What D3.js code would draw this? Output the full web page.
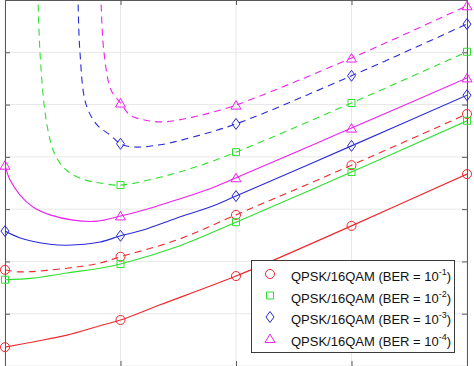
<!DOCTYPE html>
<html>
<head>
<meta charset="utf-8">
<script src="https://cdn.jsdelivr.net/npm/d3@7"></script>
<style>
  body { margin: 0; background: #fff; }
  svg { display: block; font-family: "Liberation Sans", Arial, sans-serif; }
</style>
</head>
<body>
<svg id="chart"></svg>
<script>
let width = 474;
let height = 366;

// x ticks (axis labels are cropped off in the reference)
let xTicks = [1, 2, 3, 4, 5];
let yTicks = [0, 1, 2, 3, 4, 5, 6, 7];

// series, solid and dashed for each BER target
let redSolidX = [1, 1.242, 1.537, 1.823, 2, 2.342, 3, 4, 5];
let redSolidY = [0.36, 0.46, 0.59, 0.77, 0.88, 1.17, 1.72, 2.68, 3.67];
let redDashX = [1, 1.13, 1.537, 1.823, 2, 2.489, 3, 4, 5];
let redDashY = [1.84, 1.80, 1.87, 1.97, 2.09, 2.41, 2.89, 3.84, 4.82];

let greenSolidX = [1, 1.242, 1.537, 1.823, 2, 2.489, 3, 4, 5];
let greenSolidY = [1.65, 1.68, 1.78, 1.87, 1.95, 2.28, 2.75, 3.71, 4.69];
let greenDashX = [1.28, 1.286, 1.303, 1.338, 1.372, 1.416, 1.476, 1.563, 1.693, 1.823, 2, 2.342, 2.628, 3, 4, 5];
let greenDashY = [7.6, 7.0, 6.0, 5.01, 4.51, 4.13, 3.88, 3.69, 3.56, 3.5, 3.46, 3.61, 3.79, 4.09, 5.03, 6.01];

let blueSolidX = [1, 1.13, 1.39, 1.537, 1.823, 2, 2.195, 2.489, 2.775, 3, 4, 5];
let blueSolidY = [2.58, 2.45, 2.33, 2.31, 2.37, 2.49, 2.60, 2.83, 3.04, 3.25, 4.21, 5.18];
let blueDashX = [1.625, 1.632, 1.649, 1.701, 1.797, 1.909, 2, 2.108, 2.342, 2.628, 3, 4, 5];
let blueDashY = [7.6, 7.0, 6.0, 5.01, 4.61, 4.42, 4.25, 4.19, 4.23, 4.38, 4.63, 5.55, 6.54];

let magSolidX = [1, 1.043, 1.13, 1.242, 1.39, 1.589, 1.797, 2, 2.195, 2.489, 2.749, 3, 4, 5];
let magSolidY = [3.84, 3.56, 3.27, 3.04, 2.89, 2.79, 2.77, 2.87, 2.98, 3.18, 3.37, 3.6, 4.55, 5.51];
let magDashX = [1.825, 1.831, 1.857, 1.918, 2, 2.082, 2.195, 2.368, 2.628, 2.775, 3, 4, 5];
let magDashY = [7.6, 7.0, 6.0, 5.28, 5.03, 4.80, 4.71, 4.67, 4.76, 4.84, 4.99, 5.89, 6.89];

let legendLabels = ['-1', '-2', '-3', '-4'];

let red = '#f0282d';
let green = '#30e030';
let blue = '#2a2ad8';
let magenta = '#ec22ec';

let series = [
  { xs: redSolidX, ys: redSolidY, color: red, dash: null, marker: 'circle' },
  { xs: redDashX, ys: redDashY, color: red, dash: '7,5', marker: 'circle' },
  { xs: greenSolidX, ys: greenSolidY, color: green, dash: null, marker: 'square' },
  { xs: greenDashX, ys: greenDashY, color: green, dash: '7,5', marker: 'square' },
  { xs: blueSolidX, ys: blueSolidY, color: blue, dash: null, marker: 'diamond' },
  { xs: blueDashX, ys: blueDashY, color: blue, dash: '7,5', marker: 'diamond' },
  { xs: magSolidX, ys: magSolidY, color: magenta, dash: null, marker: 'triangle' },
  { xs: magDashX, ys: magDashY, color: magenta, dash: '7,5', marker: 'triangle' }
];

let plotLeft = 5, plotRight = 467, plotTop = 0, plotBottom = 366;

let xScale = d3.scaleLinear().domain([1, 5]).range([plotLeft, plotRight]);
let yScale = d3.scaleLinear().domain([0, 7]).range([plotBottom, plotTop]);

let svg = d3.select('#chart').attr('width', width).attr('height', height);

svg.append('defs').append('clipPath').attr('id', 'plot')
  .append('rect')
  .attr('x', plotLeft).attr('y', plotTop)
  .attr('width', plotRight - plotLeft).attr('height', plotBottom - plotTop);

// grid
svg.append('g')
  .selectAll('line')
  .data(xTicks)
  .enter()
  .append('line')
  .attr('x1', d => xScale(d)).attr('x2', d => xScale(d))
  .attr('y1', plotTop).attr('y2', plotBottom)
  .attr('stroke', '#e8e8e8');

svg.append('g')
  .selectAll('line')
  .data(yTicks)
  .enter()
  .append('line')
  .attr('x1', plotLeft).attr('x2', plotRight)
  .attr('y1', d => yScale(d)).attr('y2', d => yScale(d))
  .attr('stroke', '#e8e8e8');

// axes box with inward ticks
let axisColor = '#5a5a5a';
svg.append('g').attr('transform', `translate(${plotLeft},0)`)
  .call(d3.axisRight(yScale).tickValues(yTicks).tickSize(5).tickFormat(''))
  .call(g => g.selectAll('line,path').attr('stroke', axisColor));
svg.append('g').attr('transform', `translate(${plotRight},0)`)
  .call(d3.axisLeft(yScale).tickValues(yTicks).tickSize(5).tickFormat(''))
  .call(g => g.selectAll('line,path').attr('stroke', axisColor));
svg.append('g').attr('transform', `translate(0,${plotTop})`)
  .call(d3.axisBottom(xScale).tickValues(xTicks).tickSize(5).tickFormat(''))
  .call(g => g.selectAll('line,path').attr('stroke', axisColor));
svg.append('g').attr('transform', `translate(0,${plotBottom})`)
  .call(d3.axisTop(xScale).tickValues(xTicks).tickSize(5).tickFormat(''))
  .call(g => g.selectAll('line,path').attr('stroke', axisColor));

let line = d3.line()
  .x(d => xScale(d[0]))
  .y(d => yScale(d[1]))
  .curve(d3.curveCatmullRom.alpha(0.5));

let lines = svg.append('g').attr('clip-path', 'url(#plot)');

series.forEach(s => {
  let pts = s.xs.map((x, i) => [x, s.ys[i]]);
  lines.append('path')
    .datum(pts)
    .attr('d', line)
    .attr('fill', 'none')
    .attr('stroke', s.color)
    .attr('stroke-width', 1.1)
    .attr('stroke-dasharray', s.dash);
});

function markerPath(type) {
  if (type === 'circle') return d3.symbol().type(d3.symbolCircle).size(64)();
  if (type === 'square') return 'M-3.5,-3.5H3.5V3.5H-3.5Z';
  if (type === 'diamond') return 'M0,-5.5L4,0L0,5.5L-4,0Z';
  return 'M0,-4.5L5,4L-5,4Z';
}

let marks = svg.append('g');
series.forEach(s => {
  let pts = s.xs.map((x, i) => [x, s.ys[i]]).filter(d => Number.isInteger(d[0]));
  marks.selectAll(null)
    .data(pts)
    .enter()
    .append('path')
    .attr('transform', d => `translate(${xScale(d[0])},${yScale(d[1])})`)
    .attr('d', markerPath(s.marker))
    .attr('fill', 'none')
    .attr('stroke', s.color)
    .attr('stroke-width', 1);
});

// legend
let legend = svg.append('g').attr('transform', 'translate(251,260)');
legend.append('rect')
  .attr('x', 0.5).attr('y', 0.5)
  .attr('width', 203).attr('height', 92)
  .attr('fill', '#fff')
  .attr('stroke', '#3a3a3a');

let legendItems = [
  { color: red, marker: 'circle' },
  { color: green, marker: 'square' },
  { color: blue, marker: 'diamond' },
  { color: magenta, marker: 'triangle' }
];

legendItems.forEach((item, i) => {
  let cy = 14 + i * 21.5;
  legend.append('path')
    .attr('transform', `translate(19,${cy})`)
    .attr('d', markerPath(item.marker))
    .attr('fill', 'none')
    .attr('stroke', item.color);
  let t = legend.append('text')
    .attr('x', 40).attr('y', cy + 7)
    .attr('font-size', 13)
    .attr('fill', '#111');
  t.append('tspan').text('QPSK/16QAM (BER = 10');
  t.append('tspan').attr('dy', -6).attr('font-size', 9).text(legendLabels[i]);
  t.append('tspan').attr('dy', 6).text(')');
});
</script>
</body>
</html>
